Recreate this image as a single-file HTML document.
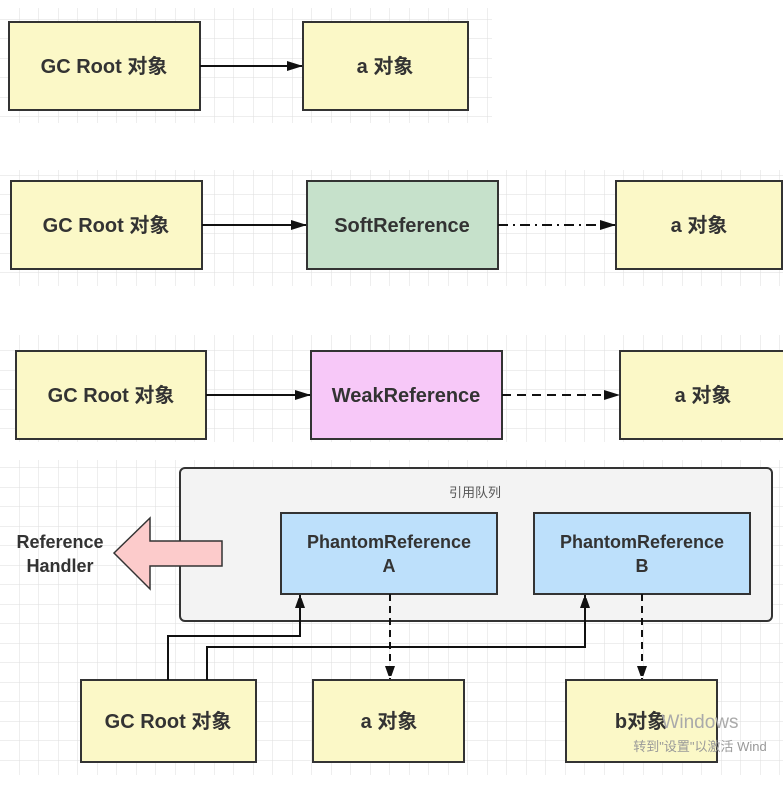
<!DOCTYPE html>
<html><head><meta charset="utf-8"><style>
body{margin:0;background:#fff;}
svg text{font-family:"Liberation Sans","Noto Sans CJK SC",sans-serif;font-weight:bold;fill:#333;}
</style></head><body>
<svg width="783" height="781" viewBox="0 0 783 781" xmlns="http://www.w3.org/2000/svg">
<defs>
<pattern id="g" width="19.5" height="19.5" patternUnits="userSpaceOnUse"><path d="M19.5 0V19.5H0" fill="none" stroke="#dedede" stroke-width="1"/></pattern>
<marker id="ah" markerWidth="10" markerHeight="14" refX="13" refY="5" orient="auto" markerUnits="userSpaceOnUse"><path d="M0 0L14 5L0 10z" fill="#111"/></marker>
<marker id="ah2" markerWidth="16" markerHeight="10" refX="15" refY="5" orient="auto" markerUnits="userSpaceOnUse"><path d="M0 0L16 5L0 10z" fill="#111"/></marker>
</defs>
<rect x="0" y="8" width="492" height="115" fill="url(#g)"/>
<rect x="0" y="170" width="783" height="116" fill="url(#g)"/>
<rect x="0" y="335" width="783" height="440" fill="url(#g)"/>
<rect x="0" y="442" width="783" height="18" fill="#fff"/>
<g stroke="#333" stroke-width="2">
<rect x="9" y="22" width="191" height="88" fill="#fbf8c7"/>
<rect x="303" y="22" width="165" height="88" fill="#fbf8c7"/>
<rect x="11" y="181" width="191" height="88" fill="#fbf8c7"/>
<rect x="307" y="181" width="191" height="88" fill="#c6e1cb"/>
<rect x="616" y="181" width="166" height="88" fill="#fbf8c7"/>
<rect x="16" y="351" width="190" height="88" fill="#fbf8c7"/>
<rect x="311" y="351" width="191" height="88" fill="#f7c8f8"/>
<rect x="620" y="351" width="166" height="88" fill="#fbf8c7"/>
<rect x="180" y="468" width="592" height="153" rx="5" fill="#f3f3f3"/>
<rect x="281" y="513" width="216" height="81" fill="#bde0fb"/>
<rect x="534" y="513" width="216" height="81" fill="#bde0fb"/>
<rect x="81" y="680" width="175" height="82" fill="#fbf8c7"/>
<rect x="313" y="680" width="151" height="82" fill="#fbf8c7"/>
<rect x="566" y="680" width="151" height="82" fill="#fbf8c7"/>
<path d="M114 553L150 518V541H222V566H150V589Z" fill="#fccbcb" stroke-width="1.5"/>
</g>
<g stroke="#111" stroke-width="2" fill="none">
<line x1="200" y1="66" x2="302" y2="66" marker-end="url(#ah2)"/>
<line x1="202" y1="225" x2="306" y2="225" marker-end="url(#ah2)"/>
<line x1="498" y1="225" x2="615" y2="225" stroke-dasharray="10,5,2,5" marker-end="url(#ah2)"/>
<line x1="206" y1="395" x2="310" y2="395" marker-end="url(#ah2)"/>
<line x1="502" y1="395" x2="619" y2="395" stroke-dasharray="9,6" marker-end="url(#ah2)"/>
<path d="M168 680V636H300V595" marker-end="url(#ah)"/>
<path d="M207 680V647H585V595" marker-end="url(#ah)"/>
<line x1="390" y1="594" x2="390" y2="679" stroke-dasharray="7,5" marker-end="url(#ah)"/>
<line x1="642" y1="594" x2="642" y2="679" stroke-dasharray="7,5" marker-end="url(#ah)"/>
</g>
<g font-size="20" text-anchor="middle">
<text x="104" y="73">GC Root 对象</text>
<text x="385" y="73">a 对象</text>
<text x="106" y="232">GC Root 对象</text>
<text x="402" y="232">SoftReference</text>
<text x="699" y="232">a 对象</text>
<text x="111" y="402">GC Root 对象</text>
<text x="406" y="402">WeakReference</text>
<text x="703" y="402">a 对象</text>
<text x="168" y="728">GC Root 对象</text>
<text x="389" y="728">a 对象</text>
<text x="641" y="728">b对象</text>
</g>
<g font-size="18" text-anchor="middle">
<text x="389" y="548">PhantomReference</text>
<text x="389" y="572">A</text>
<text x="642" y="548">PhantomReference</text>
<text x="642" y="572">B</text>
<text x="60" y="548">Reference</text>
<text x="60" y="572">Handler</text>
</g>
<text x="475" y="497" font-size="13" text-anchor="middle" style="font-weight:normal;fill:#555">引用队列</text>
<text x="700" y="728" font-size="19" text-anchor="middle" style="font-weight:normal;fill:#aaa">Windows</text>
<text x="700" y="751" font-size="13" text-anchor="middle" style="font-weight:normal;fill:#999">转到"设置"以激活 Wind</text>
</svg>
</body></html>
